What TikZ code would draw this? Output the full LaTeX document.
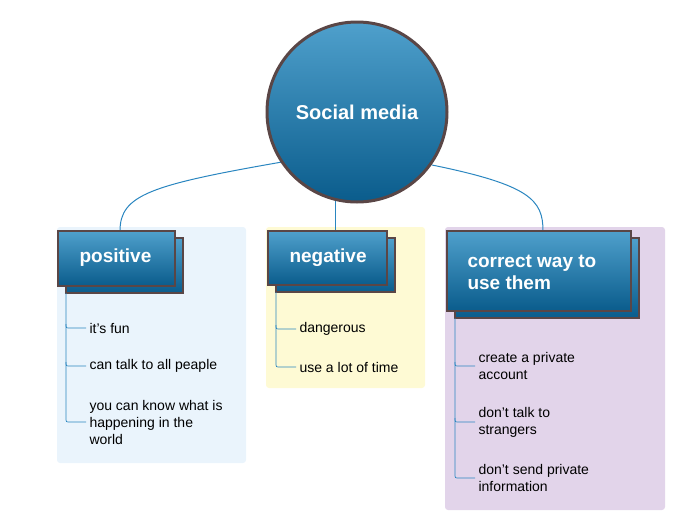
\documentclass[tikz,border=0pt]{standalone}
\usepackage{fontspec}
\setmainfont{Liberation Sans}
\usetikzlibrary{shadings}
\definecolor{bord}{HTML}{5A4646}
\definecolor{btop}{HTML}{4FA0CC}
\definecolor{bbot}{HTML}{0A5C8C}
\definecolor{line}{HTML}{2A86C0}
\begin{document}
\begin{tikzpicture}[x=1pt,y=-1pt,
  panel/.style={rounded corners=3pt},
  topic/.style={draw=bord,line width=2.5pt,top color=btop,bottom color=bbot},
  ttext/.style={text=white,font=\fontsize{19}{22}\selectfont\bfseries,align=left,anchor=west},
  item/.style={font=\fontsize{14}{17}\selectfont,anchor=west,align=left},
  conn/.style={draw=line,line width=1pt}]
\useasboundingbox (0,0) rectangle (696,520);
% panels
\fill[panel,fill={rgb,255:red,234;green,244;blue,252}] (57,227) rectangle (246,463);
\fill[panel,fill={rgb,255:red,254;green,250;blue,212}] (266,227) rectangle (425,388);
\fill[panel,fill={rgb,255:red,226;green,212;blue,234}] (445,227) rectangle (665,510);
% connectors from circle
\coordinate (c1) at (282,162);
\coordinate (c2) at (335,198);
\coordinate (c3) at (432,165);
\coordinate (p1) at (120,231);
\coordinate (p2) at (335,231);
\coordinate (p3) at (543,231);
\draw[conn] (c1) .. controls (150,185) and (120,195) .. (p1);
\draw[conn] (c2) -- (p2);
\draw[conn] (c3) .. controls (530,185) and (543,200) .. (p3);
% circle
\node[circle,minimum size=180pt,draw=bord,line width=3pt,top color=btop,bottom color=bbot,
  text=white,font=\fontsize{20}{24}\selectfont\bfseries] (root) at (357,112) {Social media};
% boxes
\draw[topic] (66,238) rectangle (183,293);
\draw[topic] (58,231) rectangle (175,286);
\node[ttext] (pos) at (76,258) {positive};
\draw[topic] (276,238) rectangle (395,292);
\draw[topic] (268,231) rectangle (387,285);
\node[ttext] (neg) at (286,258) {negative};
\draw[topic] (455,238) rectangle (639,318);
\draw[topic] (447,231) rectangle (631,311);
\node[ttext] (cor) at (464,272) {correct way to\\use them};
% items positive
\coordinate (v1) at (66,293);
\node[item] (a1) at (86,328) {it's fun};
\node[item] (a2) at (86,366) {can talk to all peaple};
\node[item] (a3) at (86,422) {you can know what is\\happening in the\\world};
\draw[conn,line width=0.7pt] (v1) -- (66,418) .. controls (66,422) .. (70,422) -- (a3.west);
\draw[conn,line width=0.7pt] (66,324) .. controls (66,328) .. (70,328) -- (a1.west);
\draw[conn,line width=0.7pt] (66,362) .. controls (66,366) .. (70,366) -- (a2.west);
% items negative
\coordinate (v2) at (276,292);
\node[item] (b1) at (296,329) {dangerous};
\node[item] (b2) at (296,367) {use a lot of time};
\draw[conn,line width=0.7pt] (v2) -- (276,363) .. controls (276,367) .. (280,367) -- (b2.west);
\draw[conn,line width=0.7pt] (276,325) .. controls (276,329) .. (280,329) -- (b1.west);
% items correct
\coordinate (v3) at (455,318);
\node[item] (d1) at (475,366) {create a private\\account};
\node[item] (d2) at (475,422) {don't talk to\\strangers};
\node[item] (d3) at (475,478) {don't send private\\information};
\draw[conn,line width=0.7pt] (v3) -- (455,474) .. controls (455,478) .. (459,478) -- (d3.west);
\draw[conn,line width=0.7pt] (455,362) .. controls (455,366) .. (459,366) -- (d1.west);
\draw[conn,line width=0.7pt] (455,418) .. controls (455,422) .. (459,422) -- (d2.west);
\end{tikzpicture}
\end{document}
